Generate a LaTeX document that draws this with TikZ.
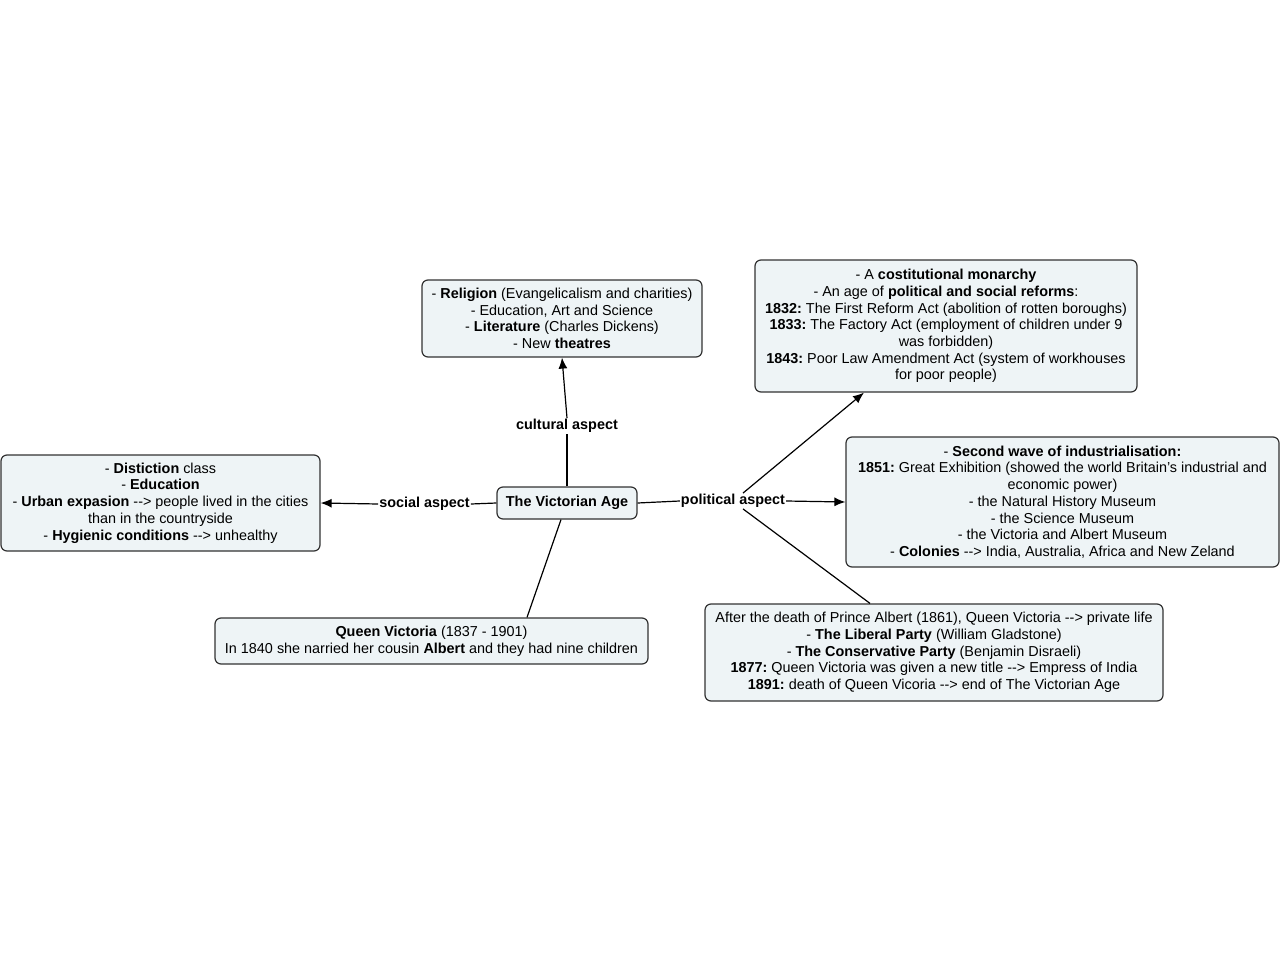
\documentclass[tikz,border=0pt]{standalone}
\usepackage{fontspec}
\setmainfont{Liberation Sans}
\usetikzlibrary{arrows.meta}
\frenchspacing
\definecolor{boxfill}{RGB}{238,244,246}
\definecolor{boxline}{RGB}{50,50,50}
\newcommand\ra{\mbox{-}\mbox{-}>}
\tikzset{
  box/.style={draw=boxline, line width=1.2pt, fill=boxfill, rounded corners=6pt, align=center,
    inner sep=0pt, font=\fontsize{14.4}{16.7}\selectfont},
  lbl/.style={fill=white, inner sep=1pt, font=\fontsize{14.4}{16}\selectfont\bfseries},
  conn/.style={line width=1.2pt, draw=black},
  arr/.style={conn, -{Latex[length=11pt,width=9pt]}},
}
\begin{document}
\begin{tikzpicture}[x=1pt,y=-1pt]
\useasboundingbox (0,0) rectangle (1280,963);
\node[box, minimum width=140pt, minimum height=32pt, font=\fontsize{14.4}{16}\selectfont\bfseries] (central) at (567,503) {The Victorian Age};
\node[box, minimum width=280pt, minimum height=77pt] (culture) at (562,318.5) {%
- \textbf{Religion} (Evangelicalism and charities)\\
- Education, Art and Science\\
- \textbf{Literature} (Charles Dickens)\\
- New \textbf{theatres}};
\node[box, minimum width=382pt, minimum height=132pt] (poltop) at (946,326) {%
- A \textbf{costitutional monarchy}\\
- An age of \textbf{political and social reforms}:\\
\textbf{1832:} The First Reform Act (abolition of rotten boroughs)\\
\textbf{1833:} The Factory Act (employment of children under 9\\
was forbidden)\\
\textbf{1843:} Poor Law Amendment Act (system of workhouses\\
for poor people)};
\node[box, minimum width=319pt, minimum height=96pt] (social) at (160.5,503) {%
- \textbf{Distiction} class\\
- \textbf{Education}\\
- \textbf{Urban expasion} \ra{} people lived in the cities\\
than in the countryside\\
- \textbf{Hygienic conditions} \ra{} unhealthy};
\node[box, minimum width=433pt, minimum height=130pt] (indus) at (1062.5,502) {%
- \textbf{Second wave of industrialisation:}\\
\textbf{1851:} Great Exhibition (showed the world Britain’s industrial and\\
economic power)\\
- the Natural History Museum\\
- the Science Museum\\
- the Victoria and Albert Museum\\
- \textbf{Colonies} \ra{} India, Australia, Africa and New Zeland};
\node[box, minimum width=458pt, minimum height=97pt] (late) at (934,652.5) {%
After the death of Prince Albert (1861), Queen Victoria \ra{} private life\\
- \textbf{The Liberal Party} (William Gladstone)\\
- \textbf{The Conservative Party} (Benjamin Disraeli)\\
\textbf{1877:} Queen Victoria was given a new title \ra{} Empress of India\\
\textbf{1891:} death of Queen Vicoria \ra{} end of The Victorian Age};
\node[box, minimum width=433pt, minimum height=46pt] (queen) at (431.5,641) {%
\textbf{Queen Victoria} (1837 - 1901)\\
In 1840 she narried her cousin \textbf{Albert} and they had nine children};
\node[lbl] (cult) at (567,426) {cultural aspect};
\node[lbl] (soc) at (424.5,504) {social aspect};
\node[lbl] (pol) at (733,501) {political aspect};
\draw[conn] (central.north) -- (cult.south);
\draw[arr] (cult.north) -- (culture.south);
\draw[conn] (central.west) -- (soc.east);
\draw[arr] (soc.west) -- (social.east);
\draw[conn] (central.east) -- (pol.west);
\draw[arr] (pol.east) -- (indus.west);
\draw[arr] ([xshift=10pt]pol.north) -- ([xshift=-82pt]poltop.south);
\draw[conn] ([xshift=10pt]pol.south) -- ([xshift=-64pt]late.north);
\draw[conn] ([xshift=-6pt]central.south) -- ([xshift=95.5pt]queen.north);
\end{tikzpicture}
\end{document}
